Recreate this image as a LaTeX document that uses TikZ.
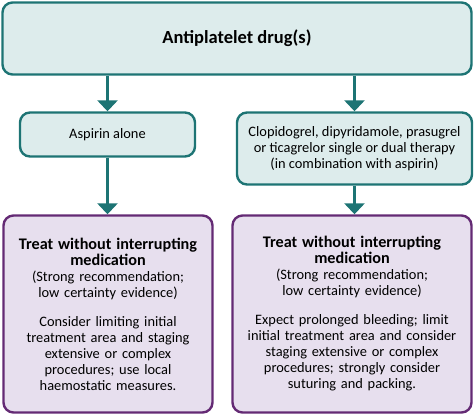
\documentclass[tikz,border=0pt]{standalone}
\usepackage{fontspec}
\setmainfont{Carlito}
\usetikzlibrary{arrows.meta}
\definecolor{tealline}{HTML}{1D7474}
\definecolor{tealfill}{HTML}{DDECEC}
\definecolor{plumline}{HTML}{642A74}
\definecolor{plumfill}{HTML}{E7DFEE}
\newcommand{\advhead}[1]{\textbf{\fontsize{16.2}{16}\selectfont #1}}
\tikzset{
	drugbox/.style={draw=tealline, fill=tealfill, line width=2.4pt, rounded corners=10pt, align=center, inner sep=0pt},
	advicebox/.style={draw=plumline, fill=plumfill, line width=2.4pt, rounded corners=10pt, align=center, inner sep=0pt, text width=#1-8pt, minimum width=#1, minimum height=197pt},
	flow/.style={draw=tealline, line width=3pt, -{Triangle[length=11pt,width=20pt]}}
}
\begin{document}
\begin{tikzpicture}[x=1pt,y=-1pt]
		\useasboundingbox (0,0) rectangle (474,417);
		\node[drugbox, minimum width=469pt, minimum height=72pt, font=\bfseries\fontsize{18.5}{20}\selectfont] (drug) at (237,38.5) {Antiplatelet drug(s)};
		\node[drugbox, minimum width=175pt, minimum height=44pt, font=\fontsize{14.4}{16}\selectfont] (asp) at (107.5,134.5) {Aspirin alone};
		\node[drugbox, minimum width=235pt, minimum height=72pt, font=\fontsize{14.4}{16}\selectfont] (other) at (354.5,148.5) {Clopidogrel, dipyridamole, prasugrel\\or ticagrelor single or dual therapy\\(in combination with aspirin)};
		\node[advicebox=209pt, font=\fontsize{14.4}{16}\selectfont] (treatA) at (108,314) {\advhead{Treat without interrupting}\\\advhead{medication}\\(Strong recommendation;\\low certainty evidence)\\[13pt]Consider limiting initial\\treatment area and staging\\extensive or complex\\procedures; use local\\haemostatic measures.};
		\node[advicebox=239pt, font=\fontsize{14.4}{16}\selectfont] (treatB) at (352,314) {\advhead{Treat without interrupting}\\\advhead{medication}\\(Strong recommendation;\\low certainty evidence)\\[13pt]Expect prolonged bleeding; limit\\initial treatment area and consider\\staging extensive or complex\\procedures; strongly consider\\suturing and packing.};
		\draw[flow] (drug.south -| asp) -- (asp.north);
		\draw[flow] (drug.south -| other) -- (other.north);
		\draw[flow] (asp.south) -- (asp.south |- treatA.north);
		\draw[flow] (other.south) -- (other.south |- treatB.north);
	\end{tikzpicture}
\end{document}
